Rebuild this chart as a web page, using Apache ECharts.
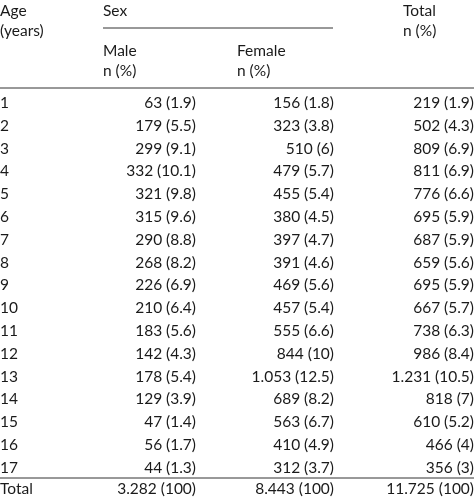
<!DOCTYPE html>
<html><head><meta charset="utf-8">
<script src="https://cdn.jsdelivr.net/npm/echarts@6/dist/echarts.min.js"></script>
<style>html,body{margin:0;padding:0;background:#fff}#c{width:474px;height:498px}</style>
</head><body><div id="c"></div>
<script>
const ages = ['1','2','3','4','5','6','7','8','9','10','11','12','13','14','15','16','17','Total'];
const male = ['63 (1.9)','179 (5.5)','299 (9.1)','332 (10.1)','321 (9.8)','315 (9.6)','290 (8.8)','268 (8.2)','226 (6.9)','210 (6.4)','183 (5.6)','142 (4.3)','178 (5.4)','129 (3.9)','47 (1.4)','56 (1.7)','44 (1.3)','3.282 (100)'];
const female = ['156 (1.8)','323 (3.8)','510 (6)','479 (5.7)','455 (5.4)','380 (4.5)','397 (4.7)','391 (4.6)','469 (5.6)','457 (5.4)','555 (6.6)','844 (10)','1.053 (12.5)','689 (8.2)','563 (6.7)','410 (4.9)','312 (3.7)','8.443 (100)'];
const total = ['219 (1.9)','502 (4.3)','809 (6.9)','811 (6.9)','776 (6.6)','695 (5.9)','687 (5.9)','659 (5.6)','695 (5.9)','667 (5.7)','738 (6.3)','986 (8.4)','1.231 (10.5)','818 (7)','610 (5.2)','466 (4)','356 (3)','11.725 (100)'];

const chart = echarts.init(document.getElementById('c'));
const font = {fontFamily:'Lato', fontSize:15.5, fill:'#1a1a1a'};
const els = [];
function t(x,y,s,align){els.push({type:'text',x:x,y:y,style:Object.assign({text:s,textAlign:align||'left',textVerticalAlign:'middle'},font)});}
function l(x1,y,x2){els.push({type:'line',shape:{x1:x1,y1:y,x2:x2,y2:y},style:{stroke:'#333',lineWidth:1}});}
t(0,11,'Age'); t(0,31,'(years)');
t(103,11,'Sex'); l(103,28,333);
t(103,51,'Male'); t(103,71,'n (%)');
t(237,51,'Female'); t(237,71,'n (%)');
t(403,11,'Total'); t(403,31,'n (%)');
l(0,88,474);
ages.forEach((a,i)=>{
  const y = i<17 ? 103 + i*22.8 : 489;
  t(0,y,a); t(196,y,male[i],'right'); t(334,y,female[i],'right'); t(474,y,total[i],'right');
});
l(0,478,474);
chart.setOption({graphic:els});
</script></body></html>
